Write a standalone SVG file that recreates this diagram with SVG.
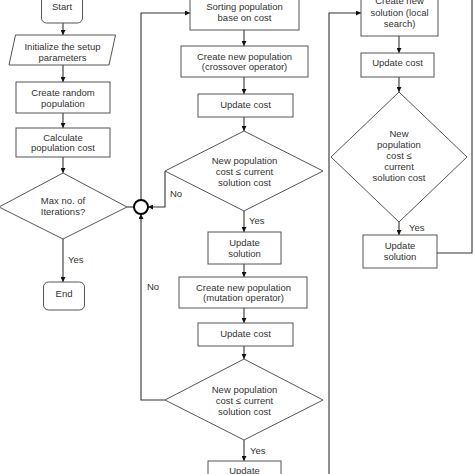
<svg xmlns="http://www.w3.org/2000/svg" width="474" height="474" viewBox="0 0 474 474">
<style>
.b{fill:#fff;stroke:#555;stroke-width:1}
.t{font-family:"Liberation Sans",Arial,sans-serif;font-size:9.5px;fill:#333;text-anchor:middle}
.l{font-family:"Liberation Sans",Arial,sans-serif;font-size:9.5px;fill:#333}
.c{fill:none;stroke:#333;stroke-width:1.1}
</style>
<defs>
<marker id="a" viewBox="0 0 10 10" refX="10" refY="5" markerWidth="5" markerHeight="5" orient="auto" markerUnits="userSpaceOnUse">
<path d="M0,0 L10,5 L0,10 Z" fill="#111"/>
</marker>
</defs>
<rect width="474" height="474" fill="#fff"/>
<g id="connectors">
<path class="c" d="M63,23 V35" marker-end="url(#a)"/>
<path class="c" d="M63,65 V82" marker-end="url(#a)"/>
<path class="c" d="M63,113 V128" marker-end="url(#a)"/>
<path class="c" d="M63,157 V173" marker-end="url(#a)"/>
<path class="c" d="M127,207 H134"/>
<path class="c" d="M63,239 V282" marker-end="url(#a)"/>
<path class="c" d="M141,200 V13 H190" marker-end="url(#a)"/>
<path class="c" d="M244,30 V46" marker-end="url(#a)"/>
<path class="c" d="M244,77 V94" marker-end="url(#a)"/>
<path class="c" d="M244,117 V131" marker-end="url(#a)"/>
<path class="c" d="M165,171 V207 H148" marker-end="url(#a)"/>
<path class="c" d="M244,211 V232" marker-end="url(#a)"/>
<path class="c" d="M244,264 V277" marker-end="url(#a)"/>
<path class="c" d="M244,308 V323" marker-end="url(#a)"/>
<path class="c" d="M244,346 V359" marker-end="url(#a)"/>
<path class="c" d="M165,400 H141 V214" marker-end="url(#a)"/>
<path class="c" d="M244,440 V461" marker-end="url(#a)"/>
<path class="c" d="M329,480 V13 H361" marker-end="url(#a)"/>
<path class="c" d="M399,36 V53" marker-end="url(#a)"/>
<path class="c" d="M399,77 V92" marker-end="url(#a)"/>
<path class="c" d="M399,222 V235" marker-end="url(#a)"/>
<path class="c" d="M437,253 H472 V-5"/>
<text class="l" x="68" y="262.5">Yes</text>
<text class="l" x="170" y="196.5">No</text>
<text class="l" x="147" y="289.5">No</text>
<text class="l" x="249" y="223.5">Yes</text>
<text class="l" x="250" y="453.5">Yes</text>
<text class="l" x="409" y="230.5">Yes</text>
</g>
<g id="start">
<rect class="b" x="41.5" y="-10" width="41" height="33" rx="5"/>
<text class="t" x="62" y="9.5">Start</text>
</g>
<g id="init">
<path class="b" d="M15.5,35 H115.5 L109,65 H9 Z"/>
<text class="t" x="62.5" y="49.5">Initialize the setup</text>
<text class="t" x="62.5" y="60.5">parameters</text>
</g>
<g id="random">
<rect class="b" x="16" y="82" width="94" height="31"/>
<text class="t" x="63" y="95.5">Create random</text>
<text class="t" x="63" y="106.5">population</text>
</g>
<g id="calc">
<rect class="b" x="16" y="128" width="94" height="29"/>
<text class="t" x="63" y="140.5">Calculate</text>
<text class="t" x="63" y="150.5">population cost</text>
</g>
<g id="maxiter">
<path class="b" d="M63,173 L127,207 L63,239 L-1,207 Z"/>
<text class="t" x="63" y="203.5">Max no. of</text>
<text class="t" x="63" y="214.5">Iterations?</text>
</g>
<g id="junction">
<circle cx="141" cy="207" r="7" fill="#fff" stroke="#000" stroke-width="2"/>
</g>
<g id="end">
<rect class="b" x="43.5" y="282" width="41" height="28" rx="5"/>
<text class="t" x="64" y="296.5">End</text>
</g>
<g id="sorting">
<rect class="b" x="190" y="-5" width="109" height="35"/>
<text class="t" x="244.5" y="9.5">Sorting population</text>
<text class="t" x="244.5" y="20.5">base on cost</text>
</g>
<g id="crossover">
<rect class="b" x="181" y="46" width="127" height="31"/>
<text class="t" x="244.5" y="59.5">Create new population</text>
<text class="t" x="244.5" y="69.5">(crossover operator)</text>
</g>
<g id="cost1">
<rect class="b" x="198" y="94" width="95" height="23"/>
<text class="t" x="245.5" y="107.5">Update cost</text>
</g>
<g id="cmp1">
<path class="b" d="M244,131 L323,171 L244,211 L165,171 Z"/>
<text class="t" x="244.5" y="163.5">New population</text>
<text class="t" x="244.5" y="174.5">cost ≤ current</text>
<text class="t" x="244.5" y="185.5">solution cost</text>
</g>
<g id="sol1">
<rect class="b" x="208" y="232" width="73" height="32"/>
<text class="t" x="244.5" y="245.5">Update</text>
<text class="t" x="244.5" y="256.5">solution</text>
</g>
<g id="mutation">
<rect class="b" x="179" y="277" width="128" height="31"/>
<text class="t" x="243.5" y="290.5">Create new population</text>
<text class="t" x="243.5" y="300.5">(mutation operator)</text>
</g>
<g id="cost2">
<rect class="b" x="198" y="323" width="95" height="23"/>
<text class="t" x="245.5" y="336.5">Update cost</text>
</g>
<g id="cmp2">
<path class="b" d="M244,359 L323,400 L244,440 L165,400 Z"/>
<text class="t" x="244.5" y="392.5">New population</text>
<text class="t" x="244.5" y="403.5">cost ≤ current</text>
<text class="t" x="244.5" y="414.5">solution cost</text>
</g>
<g id="sol2">
<rect class="b" x="208" y="461" width="73" height="32"/>
<text class="t" x="244.5" y="473.5">Update</text>
</g>
<g id="local">
<rect class="b" x="361" y="-10" width="77" height="46"/>
<text class="t" x="399.5" y="4">Create new</text>
<text class="t" x="399.5" y="15.5">solution (local</text>
<text class="t" x="399.5" y="26.5">search)</text>
</g>
<g id="cost3">
<rect class="b" x="361" y="53" width="73" height="24"/>
<text class="t" x="397.5" y="65.5">Update cost</text>
</g>
<g id="cmp3">
<path class="b" d="M399,92 L467,157 L399,222 L331,157 Z"/>
<text class="t" x="399" y="136.5">New</text>
<text class="t" x="399" y="148">population</text>
<text class="t" x="399" y="159">cost ≤</text>
<text class="t" x="399" y="170">current</text>
<text class="t" x="399" y="180.5">solution cost</text>
</g>
<g id="sol3">
<rect class="b" x="363" y="235" width="74" height="33"/>
<text class="t" x="400" y="248.5">Update</text>
<text class="t" x="400" y="259.5">solution</text>
</g>
</svg>
